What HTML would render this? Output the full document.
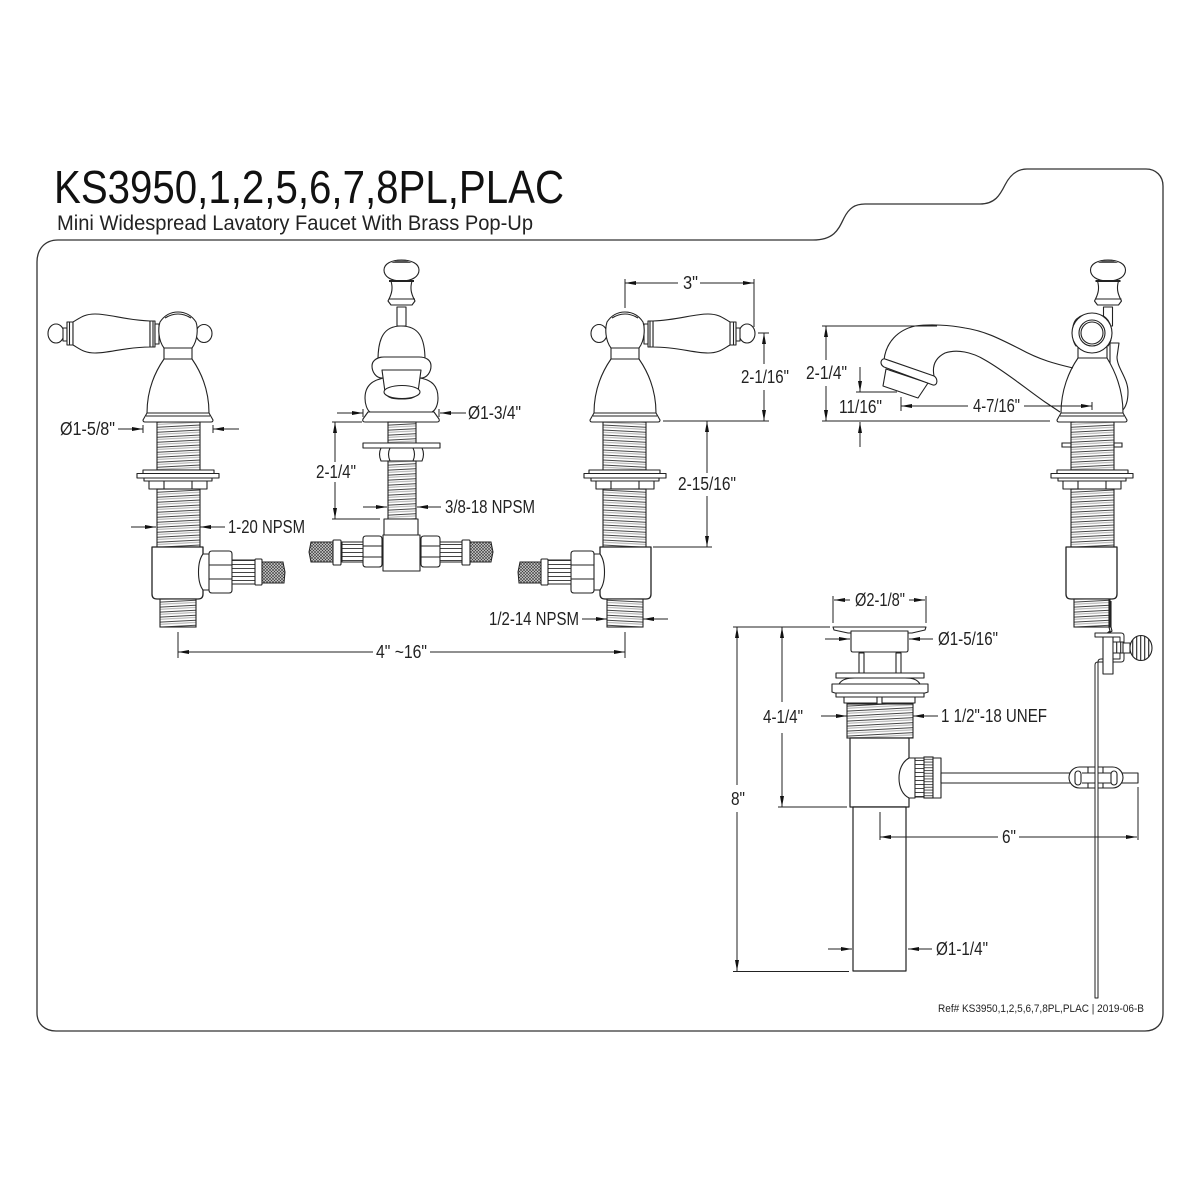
<!DOCTYPE html>
<html><head><meta charset="utf-8"><title>KS3950 diagram</title>
<style>
html,body{margin:0;padding:0;background:#fff}
svg{display:block}
.s,.s *{fill:#fff;stroke:#222;stroke-width:1.1;stroke-linejoin:round}
.l{fill:none;stroke:#222;stroke-width:1.1}
.d{fill:none;stroke:#222;stroke-width:1}
text{font-family:"Liberation Sans",sans-serif;fill:#222;font-size:18px;stroke:none}
</style></head><body>
<svg xmlns="http://www.w3.org/2000/svg" width="1200" height="1200" viewBox="0 0 1200 1200">
<defs>
<marker id="a" markerUnits="userSpaceOnUse" markerWidth="12" markerHeight="6" refX="11" refY="3" orient="auto-start-reverse"><path d="M0 1 L11 3 L0 5 Z" fill="#111"/></marker>
<pattern id="th" width="20" height="5" patternUnits="userSpaceOnUse" patternTransform="skewY(-3)"><rect width="20" height="5" fill="#fff"/><rect y="0" width="20" height="1" fill="#444"/><rect y="2.2" width="20" height="1" fill="#aaa"/></pattern>
<pattern id="rib" width="20" height="4" patternUnits="userSpaceOnUse"><rect width="20" height="4" fill="#fff"/><rect y="0" width="20" height="1" fill="#444"/></pattern>
<pattern id="kn" width="4" height="20" patternUnits="userSpaceOnUse"><rect width="4" height="20" fill="#fff"/><rect width="1.3" height="20" fill="#444"/></pattern>
<pattern id="kh" width="20" height="2.8" patternUnits="userSpaceOnUse"><rect width="20" height="2.8" fill="#fff"/><rect width="20" height="1" fill="#555"/></pattern>
<pattern id="br" width="3" height="3" patternUnits="userSpaceOnUse"><rect width="3" height="3" fill="#ccc"/><path d="M0 3L3 0M0 0L3 3" stroke="#333" stroke-width=".55"/></pattern>

<g id="handle">
<ellipse class="s" cx="204" cy="333.5" rx="8" ry="9"/>
<ellipse class="s" cx="56" cy="333.5" rx="8" ry="9.5"/>
<path class="s" d="M63 328H67V341H63Z"/>
<path class="s" d="M67 322H73V345H67ZM69.5 322V345"/>
<path class="s" d="M73 322C80 318 84 314 95 314C110 314 125 320 150 321V347C125 347 110 353 95 353C84 353 80 349 73 345Z"/>
<path class="s" d="M150 321H155V347H150ZM153 321V347"/>
<path class="s" d="M155 324H159V344H155Z"/>
<path class="s" d="M164 348C158 340 158 328 160 322C164 316 170 312 178 312C186 312 192 316 196 322C198 328 198 340 192 348Z"/>
<path class="l" d="M165 318Q178 310 191 318"/>
<rect class="s" x="164" y="348" width="28" height="11"/>
<path class="s" d="M164 359C155 372 147 390 147 413H209C209 390 201 372 192 359Z"/>
</g>

<g id="base">
<path class="s" d="M147 413L143 420Q143 422 145 422H211Q213 422 213 420L209 413Z"/>
<path class="l" d="M146 416H210"/>
</g>

<g id="stack">
<rect x="157" y="422" width="43" height="48" fill="url(#th)" stroke="#222" stroke-width="1.1"/>
<rect class="s" x="143" y="470" width="71" height="3.5"/>
<rect class="s" x="137" y="473.5" width="82" height="4.5"/>
<rect class="s" x="144" y="478" width="68" height="3"/>
<path class="s" d="M149 481H207V489H149ZM164 481V489M192 481V489"/>
<rect x="157" y="489" width="43" height="58" fill="url(#th)" stroke="#222" stroke-width="1.1"/>
<path class="s" d="M152 547H203V594Q203 599 198 599H157Q152 599 152 594Z" style="stroke-width:1.3"/>
<rect x="160" y="599" width="36" height="28" fill="url(#th)" stroke="#222" stroke-width="1.1"/>
</g>

<g id="feed">
<path class="s" d="M203 554H210V590H203C197 582 197 562 203 554Z"/>
<path class="s" d="M212 551H229Q232 551 232 554V590Q232 593 229 593H212Q209 593 209 590V554Q209 551 212 551ZM209 565H232M209 579H232"/>
<rect x="232" y="560" width="23" height="24" fill="url(#rib)" stroke="#222" stroke-width="1"/>
<rect class="s" x="255" y="559" width="7" height="26" rx="1"/>
<path d="M262 562H283L285 572L284 583H262Z" fill="url(#br)" stroke="#222" stroke-width="1"/>
</g>

<g id="knob">
<path class="s" d="M397 307H406V326H397Z"/>
<path class="s" d="M391 281C393 288 392 293 389 299L388 301L391 305H412L415 301L414 299C411 293 410 288 412 281Z"/>
<path class="l" d="M389 299H415"/>
<path class="s" d="M384 270C384 264 391 260 401.500 260C412 260 419 264 419 270C419 276 413 281 401.500 281C390 281 384 276 384 270Z"/>
<path d="M391 263Q401 257 412 263Z" fill="#555"/>
<path d="M389 281H414" stroke="#222" stroke-width="2" fill="none"/>
</g>
</defs>

<rect width="1200" height="1200" fill="#fff"/>

<!-- frame -->
<path d="M37 262C37 250 44 240 58 240H813C835 240 839 228 844 218C849 208 855 204 865 204H980C995 204 1000 195 1005 185C1010 175 1017 169 1027 169H1146C1156 169 1163 176 1163 186V1013C1163 1024 1156 1031 1145 1031H56C45 1031 37 1024 37 1013Z" fill="none" stroke="#333" stroke-width="1.3"/>

<!-- titles -->
<text x="54" y="203" style="font-size:46px;fill:#111" textLength="510" lengthAdjust="spacingAndGlyphs">KS3950,1,2,5,6,7,8PL,PLAC</text>
<text x="57" y="230" style="font-size:21.5px" textLength="476" lengthAdjust="spacingAndGlyphs">Mini Widespread Lavatory Faucet With Brass Pop-Up</text>

<!-- left tap -->
<use href="#handle"/><use href="#stack"/><use href="#base"/><use href="#feed"/>

<!-- right tap -->
<g transform="translate(803,0) scale(-1,1)"><use href="#handle"/><use href="#stack"/><use href="#base"/><use href="#feed"/></g>

<!-- center valve -->
<use href="#knob"/>
<path class="s" d="M365 398C365 386 372 380 384 378H420C432 380 438 386 438 398C438 404 436 410 432 412H370C367 410 365 404 365 398Z"/>
<path class="s" d="M378 360C378 338 384 326 401 326C419 326 425 338 425 360Z"/>
<path class="s" d="M382 378C376 378 372 372 372 366C372 360 378 357 384 357H419C426 357 431 360 431 366C431 372 427 378 421 378Z"/>
<path class="s" d="M382 370H421L418 392C416 399 408 399 402 399C395 399 387 399 385 392Z"/>
<ellipse class="s" cx="402" cy="392" rx="18" ry="6.500"/>
<path class="s" d="M368 412H434L439 419Q440 422 437 422H365Q362 422 363 419Z"/>
<rect x="388" y="422" width="28" height="21" fill="url(#th)" stroke="#222" stroke-width="1.1"/>
<rect class="s" x="363" y="443" width="77" height="5"/>
<path class="s" d="M381 448H422Q425 454 422 461H381Q378 454 381 448ZM390 448Q387 454 390 461M413 448Q416 454 413 461"/>
<rect x="388" y="461" width="28" height="58" fill="url(#th)" stroke="#222" stroke-width="1.1"/>
<rect class="s" x="384" y="519" width="34" height="17"/>
<rect class="s" x="383" y="535" width="37" height="36"/>
<path class="s" d="M366 536H379Q382 536 382 539V564Q382 567 379 567H366Q363 567 363 564V539Q363 536 366 536ZM363 546H382M363 557H382"/>
<path class="s" d="M424 536H437Q440 536 440 539V564Q440 567 437 567H424Q421 567 421 564V539Q421 536 424 536ZM421 546H440M421 557H440"/>
<rect x="342" y="542" width="21" height="20" fill="url(#rib)" stroke="#222" stroke-width="1"/>
<rect x="440" y="542" width="22" height="20" fill="url(#rib)" stroke="#222" stroke-width="1"/>
<rect class="s" x="333" y="540" width="8" height="25" rx="1"/>
<rect class="s" x="462" y="540" width="8" height="25" rx="1"/>
<path d="M333 542H311L309 552L311 562H333Z" fill="url(#br)" stroke="#222" stroke-width="1"/>
<path d="M470 542H491L493 552L491 562H470Z" fill="url(#br)" stroke="#222" stroke-width="1"/>

<!-- side view faucet -->
<use href="#knob" transform="translate(706.500,0)"/>
<path class="s" d="M1110 343H1119L1117 357C1117 368 1128 378 1128 392C1128 402 1125 408 1122 411L1110 411Z"/>
<g transform="translate(914,0)"><use href="#stack"/></g>
<path class="l" d="M1062 443H1071V447H1062ZM1114 443H1122V447H1114Z"/>
<path class="s" d="M1078 358C1069 371 1061 390 1061 413H1123C1123 390 1115 371 1107 358Z"/>
<rect class="s" x="1078" y="347" width="29" height="11"/>
<path class="s" d="M1076 346C1071 340 1071 322 1078 318C1083 313 1100 312 1106 318C1113 324 1113 340 1108 346Z"/>
<circle class="s" cx="1092" cy="333" r="20"/>
<circle class="s" cx="1092" cy="333" r="13"/>
<circle class="s" cx="1092" cy="333" r="11"/>
<path class="l" d="M1073 368C1056 364 1040 360 1020 349C1000 339 985 331 965 328C950 325 930 324 915 326C898 330 886 342 884 360"/>
<path class="l" d="M934 376C932 366 935 358 945 353C957 349 972 352 985 360C1006 372 1025 388 1045 402L1060 412"/>
<path class="s" d="M886 369L883 386L918 398L928 383Z"/>
<path class="s" d="M885 359L934 376C938 378 938 386 933 385L884 367C879 364 881 358 885 359Z"/>
<use href="#base" transform="translate(914,0)"/>

<!-- drain -->
<path class="s" d="M833 627H926L925 630L912 633H848L834 630Z"/>
<path class="s" d="M851 631H908V650Q908 652 906 652H853Q851 652 851 650Z"/>
<rect class="s" x="859" y="653" width="5" height="20"/>
<rect class="s" x="896" y="653" width="5" height="20"/>
<rect class="s" x="836" y="673" width="88" height="5"/>
<path class="s" d="M839 684C842 679 848 678 855 678H905C912 678 917 679 920 684Z"/>
<path class="s" d="M832 684H928V692L925 693H835L832 692Z"/>
<rect class="s" x="836" y="693" width="88" height="4"/>
<path class="s" d="M844 697H915V703H844Z"/>
<rect class="s" x="877" y="697" width="5" height="7"/>
<rect x="847" y="704" width="66" height="34" fill="url(#th)" stroke="#222" stroke-width="1.1"/>
<path class="s" d="M850 738H909V807H850Z" style="stroke-width:1.2"/>
<path class="s" d="M909 758C902 762 899 770 899 778C899 788 903 795 909 798H915V758Z"/>
<rect x="915" y="758" width="9" height="39" fill="url(#rib)" stroke="#222" stroke-width="1"/>
<rect x="924" y="757" width="9" height="41" fill="url(#kh)" stroke="#222" stroke-width="1.1"/>
<rect class="s" x="933" y="758" width="8" height="40"/>
<rect class="s" x="853" y="807" width="53" height="164" style="stroke-width:1.2"/>
<rect class="s" x="941" y="773" width="197" height="10"/>
<rect class="s" x="1069" y="767" width="54" height="21" rx="10.500"/>
<path class="l" d="M1082 773H1111M1082 783H1111"/>
<rect class="s" x="1075" y="771" width="6" height="14" rx="3"/>
<rect class="s" x="1111" y="771" width="6" height="14" rx="3"/>
<path class="l" d="M1088 767V773M1088 783V788M1103 767V773M1103 783V788"/>

<!-- lift rod and bracket -->
<path class="l" d="M1109 599V627L1110 631L1106 634M1111 601V627L1112 631L1108 634"/>
<path class="s" d="M1095 637V633H1121Q1124 633 1124 636V659Q1124 662 1121 662H1098Q1095 662 1095 665V998H1098V662Q1098 659 1101 659H1120V637Z" style="stroke-width:1"/>
<rect class="s" x="1103" y="637" width="10" height="37"/>
<rect x="1113" y="642" width="10" height="11" fill="url(#kn)" stroke="#222" stroke-width="1"/>
<rect class="s" x="1123" y="643" width="7" height="10"/>
<ellipse cx="1141" cy="648" rx="11" ry="12.500" fill="url(#kn)" stroke="#222" stroke-width="1.1"/>

<!-- dims: left tap -->
<path class="d" d="M118 429H143" marker-end="url(#a)"/><path class="d" d="M143 425V433M213 425V433"/>
<path class="d" d="M239 429H213" marker-end="url(#a)"/>
<text x="60" y="435" textLength="55" lengthAdjust="spacingAndGlyphs">Ø1-5/8"</text>
<path class="d" d="M131 527H156" marker-end="url(#a)"/>
<path class="d" d="M225 527H200" marker-end="url(#a)"/>
<text x="228" y="533" textLength="77" lengthAdjust="spacingAndGlyphs">1-20 NPSM</text>

<!-- overall -->
<path class="d" d="M178 632V658M625 632V658"/>
<path class="d" d="M373 652H178" marker-end="url(#a)"/>
<path class="d" d="M430 652H625" marker-end="url(#a)"/>
<text x="376" y="658" textLength="51" lengthAdjust="spacingAndGlyphs">4" ~16"</text>

<!-- center dims -->
<path class="d" d="M337 413H363" marker-end="url(#a)"/><path class="d" d="M466 413H440" marker-end="url(#a)"/>
<path class="d" d="M363 409V417M439 409V417"/>
<text x="468" y="419" textLength="53" lengthAdjust="spacingAndGlyphs">Ø1-3/4"</text>
<path class="d" d="M332 422H362M332 519H380"/>
<path class="d" d="M335 462V422" marker-end="url(#a)"/><path class="d" d="M335 482V519" marker-end="url(#a)"/>
<text x="316" y="478" textLength="40" lengthAdjust="spacingAndGlyphs">2-1/4"</text>
<path class="d" d="M363 507H387" marker-end="url(#a)"/><path class="d" d="M441 507H417" marker-end="url(#a)"/>
<text x="445" y="513" textLength="90" lengthAdjust="spacingAndGlyphs">3/8-18 NPSM</text>

<!-- right tap dims -->
<path class="d" d="M625 279V308M754 279V327"/>
<path class="d" d="M678 283H625" marker-end="url(#a)"/><path class="d" d="M700 283H754" marker-end="url(#a)"/>
<text x="683" y="289" textLength="15" lengthAdjust="spacingAndGlyphs">3"</text>
<path class="d" d="M758 333H769M663 421H769"/>
<path class="d" d="M764 364V333" marker-end="url(#a)"/><path class="d" d="M764 390V421" marker-end="url(#a)"/>
<text x="741" y="383" textLength="48" lengthAdjust="spacingAndGlyphs">2-1/16"</text>
<path class="d" d="M653 547H712"/>
<path class="d" d="M707 473V421" marker-end="url(#a)"/><path class="d" d="M707 496V547" marker-end="url(#a)"/>
<text x="678" y="490" textLength="58" lengthAdjust="spacingAndGlyphs">2-15/16"</text>
<path class="d" d="M582 619H607" marker-end="url(#a)"/><path class="d" d="M668 619H643" marker-end="url(#a)"/>
<text x="489" y="625" textLength="90" lengthAdjust="spacingAndGlyphs">1/2-14 NPSM</text>

<!-- spout dims -->
<path class="d" d="M822 326H937M822 421H1050"/>
<path class="d" d="M826 360V326" marker-end="url(#a)"/><path class="d" d="M826 386V421" marker-end="url(#a)"/>
<rect x="804" y="364" width="44" height="18" fill="#fff"/>
<text x="806" y="379" textLength="41" lengthAdjust="spacingAndGlyphs">2-1/4"</text>
<path class="d" d="M856 392H897"/>
<path class="d" d="M860 367V392" marker-end="url(#a)"/><path class="d" d="M860 447V422" marker-end="url(#a)"/>
<rect x="838" y="398" width="46" height="18" fill="#fff"/>
<text x="839" y="413" textLength="43" lengthAdjust="spacingAndGlyphs">11/16"</text>
<path class="d" d="M901 397V411M1092 402V410"/>
<path class="d" d="M968 406H901" marker-end="url(#a)"/><path class="d" d="M1024 406H1092" marker-end="url(#a)"/>
<text x="973" y="412" textLength="47" lengthAdjust="spacingAndGlyphs">4-7/16"</text>

<!-- drain dims -->
<path class="d" d="M833 596V623M926 596V623"/>
<path class="d" d="M850 600H834" marker-end="url(#a)"/><path class="d" d="M909 600H925" marker-end="url(#a)"/>
<text x="855" y="606" textLength="50" lengthAdjust="spacingAndGlyphs">Ø2-1/8"</text>
<path class="d" d="M825 639H850" marker-end="url(#a)"/><path class="d" d="M933 639H909" marker-end="url(#a)"/>
<text x="938" y="645" textLength="60" lengthAdjust="spacingAndGlyphs">Ø1-5/16"</text>
<path class="d" d="M733 627H830M778 807H847"/>
<path class="d" d="M782 702V627" marker-end="url(#a)"/><path class="d" d="M782 733V807" marker-end="url(#a)"/>
<text x="763" y="723" textLength="40" lengthAdjust="spacingAndGlyphs">4-1/4"</text>
<path class="d" d="M737 785V627" marker-end="url(#a)"/><path class="d" d="M737 812V971" marker-end="url(#a)"/>
<path class="d" d="M733 971.500H849"/>
<text x="731" y="805" textLength="14" lengthAdjust="spacingAndGlyphs">8"</text>
<path class="d" d="M821 716H847" marker-end="url(#a)"/><path class="d" d="M938 716H913" marker-end="url(#a)"/>
<text x="941" y="722" textLength="106" lengthAdjust="spacingAndGlyphs">1 1/2"-18 UNEF</text>
<path class="d" d="M880 812V840M1138 787V840"/>
<path class="d" d="M998 837H880" marker-end="url(#a)"/><path class="d" d="M1019 837H1137" marker-end="url(#a)"/>
<text x="1002" y="843" textLength="14" lengthAdjust="spacingAndGlyphs">6"</text>
<path class="d" d="M828 949H852" marker-end="url(#a)"/><path class="d" d="M932 949H908" marker-end="url(#a)"/>
<text x="936" y="955" textLength="52" lengthAdjust="spacingAndGlyphs">Ø1-1/4"</text>

<text x="938" y="1012" style="font-size:11px" textLength="206" lengthAdjust="spacingAndGlyphs">Ref# KS3950,1,2,5,6,7,8PL,PLAC | 2019-06-B</text>
</svg>
</body></html>
